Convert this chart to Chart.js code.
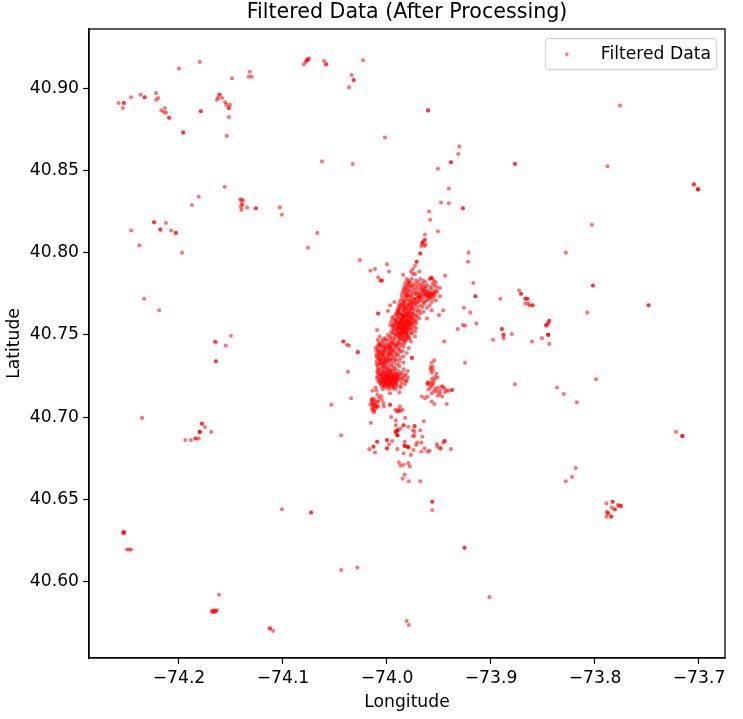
<!DOCTYPE html>
<html><head><meta charset="utf-8">
<script src="https://cdn.jsdelivr.net/npm/chart.js@4"></script>
<style>html,body{margin:0;padding:0;background:#fff}#w{width:743px;height:719px;filter:blur(0.4px)}</style>
</head><body><div id="w"><canvas id="c"></canvas></div>
<script>
const xTicks=[-74.2,-74.1,-74.0,-73.9,-73.8,-73.7];
const yTicks=[40.60,40.65,40.70,40.75,40.80,40.85,40.90];
const chartTitle="Filtered Data (After Processing)";
const seriesName="Filtered Data";
const northWest=[[-74.2,40.912],[-74.18,40.916],[-74.132,40.91],[-74.133,40.907],[-74.13,40.907],[-74.149,40.906],[-74.258,40.891],[-74.253,40.891],[-74.253,40.891],[-74.254,40.888],[-74.246,40.8945],[-74.237,40.896],[-74.233,40.8945],[-74.233,40.8945],[-74.222,40.897],[-74.222,40.893],[-74.22,40.894],[-74.217,40.8865],[-74.2135,40.888],[-74.2145,40.8855],[-74.2125,40.885],[-74.2095,40.882],[-74.2095,40.882],[-74.179,40.886],[-74.179,40.886],[-74.196,40.873],[-74.196,40.873],[-74.1635,40.893],[-74.1625,40.894],[-74.1615,40.896],[-74.1605,40.896],[-74.1585,40.894],[-74.1555,40.8915],[-74.1545,40.89],[-74.151,40.89],[-74.152,40.888],[-74.152,40.888],[-74.152,40.8825],[-74.154,40.871],[-74.156,40.84],[-74.181,40.834],[-74.1875,40.829],[-74.141,40.8325],[-74.14,40.832],[-74.1385,40.832],[-74.1395,40.83],[-74.139,40.829],[-74.1405,40.828],[-74.1345,40.8275],[-74.126,40.827],[-74.126,40.827],[-74.14,40.826],[-74.103,40.8275],[-74.101,40.823]];
const westMid=[[-74.224,40.8185],[-74.224,40.8185],[-74.2125,40.818],[-74.218,40.814],[-74.218,40.814],[-74.246,40.8135],[-74.2075,40.8135],[-74.203,40.812],[-74.203,40.812],[-74.238,40.8045],[-74.197,40.8],[-74.067,40.812],[-74.076,40.803],[-74.2335,40.772],[-74.219,40.765],[-74.15,40.7495],[-74.1655,40.746],[-74.1645,40.7455],[-74.155,40.7435],[-74.1645,40.734],[-74.1645,40.734],[-74.042,40.746],[-74.042,40.746],[-74.0385,40.744],[-74.0365,40.7435],[-74.028,40.7395],[-74.028,40.7395],[-74.0375,40.7275],[-74.0345,40.7115],[-74.0535,40.7075],[-74.044,40.689],[-74.2355,40.6995],[-74.178,40.696],[-74.178,40.696],[-74.175,40.694],[-74.18,40.691],[-74.18,40.691],[-74.18,40.691],[-74.169,40.691],[-74.194,40.686],[-74.1885,40.686],[-74.184,40.687],[-74.184,40.687],[-74.181,40.687]];
const northCentral=[[-74.08,40.9145],[-74.078,40.916],[-74.077,40.917],[-74.077,40.917],[-74.076,40.9175],[-74.075,40.918],[-74.0605,40.9165],[-74.0585,40.9145],[-74.0585,40.9145],[-74.023,40.917],[-74.034,40.908],[-74.032,40.905],[-74.032,40.905],[-74.0365,40.9005],[-73.9605,40.8865],[-73.9605,40.8865],[-74.002,40.87],[-73.9305,40.8645],[-73.9315,40.86],[-73.9385,40.855],[-73.9385,40.855],[-73.951,40.851],[-74.0625,40.8555],[-74.033,40.854],[-73.9405,40.839],[-73.948,40.8305],[-73.9405,40.83],[-73.927,40.827],[-73.927,40.827],[-73.9595,40.825],[-73.9585,40.82],[-73.9635,40.811],[-73.951,40.813],[-73.9635,40.808]];
const eastSide=[[-73.776,40.8895],[-73.877,40.854],[-73.877,40.854],[-73.788,40.8525],[-73.705,40.8415],[-73.705,40.8415],[-73.701,40.8385],[-73.701,40.8385],[-73.701,40.8385],[-73.803,40.817],[-73.828,40.8],[-73.802,40.78],[-73.802,40.78],[-73.917,40.7815],[-73.915,40.7735],[-73.915,40.7735],[-73.891,40.772],[-73.873,40.777],[-73.871,40.775],[-73.871,40.775],[-73.867,40.772],[-73.867,40.772],[-73.865,40.772],[-73.865,40.772],[-73.867,40.769],[-73.864,40.769],[-73.863,40.768],[-73.86,40.768],[-73.86,40.768],[-73.7485,40.768],[-73.7485,40.768],[-73.8075,40.7635],[-73.92,40.7635],[-73.914,40.757],[-73.844,40.7585],[-73.844,40.7585],[-73.845,40.757],[-73.846,40.7565],[-73.847,40.756],[-73.847,40.7555],[-73.8895,40.7535],[-73.8895,40.7535],[-73.88,40.7505],[-73.888,40.75],[-73.888,40.75],[-73.888,40.748],[-73.898,40.747],[-73.8605,40.746],[-73.851,40.748],[-73.845,40.75],[-73.845,40.75],[-73.845,40.75],[-73.844,40.7445],[-73.799,40.723],[-73.877,40.72],[-73.8365,40.718],[-73.83,40.714],[-73.8175,40.709],[-73.722,40.691],[-73.716,40.6885],[-73.716,40.6885],[-73.716,40.6885],[-73.8185,40.669],[-73.822,40.6635],[-73.828,40.661],[-73.789,40.6475],[-73.783,40.6485],[-73.783,40.6485],[-73.778,40.6465],[-73.777,40.646],[-73.775,40.646],[-73.775,40.646],[-73.784,40.645],[-73.781,40.644],[-73.781,40.644],[-73.7885,40.6425],[-73.7875,40.6415],[-73.7875,40.6415],[-73.789,40.6395],[-73.7845,40.6395],[-73.7845,40.6395]];
const southWest=[[-74.101,40.644],[-74.073,40.642],[-74.073,40.642],[-74.253,40.63],[-74.253,40.63],[-74.253,40.63],[-74.2535,40.6293],[-74.248,40.6195],[-74.25,40.6195],[-74.246,40.6195],[-74.044,40.607],[-74.0285,40.6085],[-74.1615,40.592],[-74.1665,40.582],[-74.1645,40.582],[-74.1685,40.582],[-74.1665,40.5825],[-74.1675,40.5815],[-74.1655,40.5815],[-74.1635,40.5825],[-74.1125,40.5715],[-74.1125,40.5715],[-74.1095,40.57]];
const southCentral=[[-73.9565,40.6485],[-73.9565,40.6485],[-73.9565,40.6435],[-73.9255,40.6205],[-73.9255,40.6205],[-73.9015,40.5905],[-73.981,40.576],[-73.979,40.5735]];
const northTail=[[-73.964,40.8075],[-73.963,40.805],[-73.966,40.806],[-73.9655,40.8065],[-73.966,40.8055],[-73.967,40.804],[-73.964,40.804],[-73.968,40.7995],[-73.968,40.7995],[-73.9215,40.8],[-73.922,40.7945],[-73.9715,40.7945],[-73.9715,40.7945],[-73.973,40.792],[-73.975,40.79],[-73.977,40.7885],[-73.975,40.787],[-73.969,40.7885],[-73.973,40.787],[-74.026,40.7955],[-74,40.793],[-74.0115,40.79],[-74.016,40.789],[-73.998,40.7885],[-74.0085,40.785],[-74.0065,40.783],[-74.005,40.783],[-74.005,40.783],[-73.9845,40.7865],[-73.944,40.786],[-73.957,40.7845],[-73.957,40.7845],[-73.958,40.7845],[-73.926,40.7665],[-73.932,40.7535],[-73.927,40.756],[-73.925,40.7555],[-73.945,40.746],[-73.949,40.7785],[-73.949,40.7735],[-73.946,40.765],[-73.95,40.762],[-73.9615,40.7665],[-73.957,40.765],[-73.9615,40.76],[-74.0085,40.763],[-74.0085,40.763],[-73.999,40.7645],[-73.997,40.768],[-73.993,40.77],[-74.0095,40.753],[-73.925,40.733]];
const midtown=[[-73.981,40.784],[-73.979,40.783],[-73.976,40.784],[-73.972,40.783],[-73.968,40.784],[-73.965,40.783],[-73.959,40.784],[-73.955,40.783],
[-73.982,40.782],[-73.98,40.781],[-73.978,40.782],[-73.974,40.781],[-73.97,40.782],[-73.966,40.781],[-73.963,40.782],[-73.956,40.781],[-73.953,40.782],
[-73.983,40.78],[-73.981,40.779],[-73.979,40.78],[-73.976,40.78],[-73.973,40.779],[-73.968,40.78],[-73.965,40.779],[-73.961,40.78],[-73.958,40.779],[-73.954,40.78],[-73.952,40.779],
[-73.984,40.778],[-73.982,40.778],[-73.98,40.777],[-73.978,40.778],[-73.97,40.778],[-73.966,40.777],[-73.963,40.778],[-73.961,40.777],[-73.957,40.778],[-73.953,40.777],
[-73.985,40.776],[-73.983,40.777],[-73.981,40.775],[-73.979,40.776],[-73.976,40.776],[-73.972,40.775],[-73.968,40.776],[-73.965,40.777],[-73.962,40.776],[-73.959,40.775],[-73.955,40.776],[-73.952,40.776],
[-73.986,40.774],[-73.983,40.775],[-73.98,40.774],[-73.977,40.774],[-73.974,40.775],[-73.971,40.774],[-73.968,40.774],[-73.965,40.775],[-73.962,40.774],[-73.96,40.774],[-73.957,40.775],[-73.954,40.774],
[-73.985,40.772],[-73.982,40.773],[-73.979,40.772],[-73.976,40.773],[-73.974,40.772],[-73.972,40.772],[-73.969,40.773],[-73.966,40.772],[-73.963,40.773],[-73.96,40.772],[-73.958,40.773],[-73.956,40.772],
[-73.987,40.771],[-73.984,40.77],[-73.981,40.771],[-73.978,40.77],[-73.975,40.771],[-73.971,40.77],[-73.968,40.771],[-73.965,40.77],[-73.961,40.771],[-73.957,40.77],[-73.953,40.771],
[-73.988,40.769],[-73.986,40.768],[-73.983,40.769],[-73.98,40.768],[-73.977,40.769],[-73.974,40.768],[-73.972,40.769],[-73.968,40.768],[-73.964,40.769],[-73.959,40.768],
[-73.989,40.767],[-73.987,40.766],[-73.984,40.767],[-73.981,40.766],[-73.978,40.767],[-73.975,40.766],[-73.971,40.767],[-73.966,40.767],
[-73.99,40.765],[-73.988,40.766],[-73.985,40.765],[-73.982,40.764],[-73.979,40.765],[-73.976,40.766],[-73.973,40.765],[-73.969,40.765],[-73.965,40.764],
[-73.991,40.763],[-73.989,40.764],[-73.987,40.763],[-73.984,40.762],[-73.981,40.763],[-73.979,40.764],[-73.976,40.763],[-73.972,40.762],[-73.968,40.763],
[-73.994,40.761],[-73.991,40.762],[-73.989,40.761],[-73.987,40.76],[-73.985,40.762],[-73.983,40.761],[-73.981,40.762],[-73.978,40.761],[-73.975,40.76],[-73.971,40.761],
[-73.995,40.76],[-73.992,40.759],[-73.99,40.76],[-73.988,40.758],[-73.986,40.759],[-73.984,40.76],[-73.982,40.758],[-73.98,40.759],[-73.978,40.758],[-73.976,40.76],[-73.973,40.759],[-73.969,40.76],
[-73.996,40.758],[-73.993,40.757],[-73.991,40.758],[-73.989,40.757],[-73.987,40.758],[-73.985,40.757],[-73.983,40.758],[-73.981,40.757],[-73.979,40.758],[-73.977,40.757],[-73.975,40.758],[-73.972,40.757],
[-73.997,40.756],[-73.994,40.755],[-73.992,40.756],[-73.99,40.757],[-73.988,40.755],[-73.986,40.756],[-73.984,40.755],[-73.982,40.756],[-73.98,40.755],[-73.978,40.756],[-73.974,40.755],
[-73.994,40.754],[-73.991,40.753],[-73.989,40.754],[-73.987,40.753],[-73.985,40.755],[-73.983,40.754],[-73.981,40.753],[-73.979,40.754],[-73.976,40.753],[-73.972,40.754],
[-73.996,40.752],[-73.993,40.751],[-73.99,40.752],[-73.988,40.751],[-73.986,40.753],[-73.984,40.752],[-73.982,40.751],[-73.98,40.752],[-73.977,40.751],[-73.973,40.752],
[-73.999,40.75],[-73.995,40.751],[-73.992,40.75],[-73.989,40.751],[-73.987,40.75],[-73.985,40.751],[-73.983,40.749],[-73.98,40.75],[-73.976,40.751]];
const midtownFill=[[-73.9785,40.7817],[-73.9765,40.7793],[-73.9742,40.7776],[-73.9717,40.7763],[-73.9693,40.7748],[-73.9671,40.7784],[-73.9647,40.7768],[-73.9628,40.7752],[-73.9604,40.7739],[-73.9581,40.7761],[-73.9816,40.7736],[-73.9793,40.7741],[-73.9775,40.7712],[-73.9828,40.7708],[-73.9851,40.7694],[-73.9872,40.7679],[-73.9794,40.7687],[-73.9763,40.7678],[-73.9735,40.7694],[-73.9695,40.7703],[-73.9892,40.7647],[-73.9867,40.7622],[-73.9838,40.7647],[-73.9812,40.7618],[-73.9786,40.7629],[-73.9762,40.7612],[-73.9841,40.7608],[-73.9823,40.7594],[-73.9863,40.7587],[-73.9798,40.7586],[-73.9775,40.7594],[-73.9752,40.7571],[-73.9805,40.7564],[-73.9827,40.7566],[-73.9845,40.7549],[-73.9871,40.7572],[-73.9893,40.7553],[-73.9858,40.7532],[-73.9832,40.7528],[-73.9808,40.7545],[-73.9785,40.7533],[-73.9905,40.7575],[-73.9921,40.7592],[-73.9874,40.7517],[-73.9912,40.7538],[-73.9848,40.7505],[-73.9887,40.7485],[-73.9856,40.7473],[-73.9818,40.7509],[-73.9794,40.7482],[-73.9823,40.7468],[-73.9761,40.7562],[-73.9741,40.7623],[-73.9724,40.7584],[-73.9704,40.7642],[-73.9903,40.7627],[-73.9816,40.7657],[-73.9773,40.7655],[-73.9836,40.7677],[-73.9689,40.7727],[-73.9631,40.7706],[-73.9589,40.7731],[-73.9558,40.7738],[-73.9632,40.7796],[-73.9708,40.7803]];
const midtownCore=[[-73.9882,40.7633],[-73.9851,40.7612],[-73.9829,40.7631],[-73.9803,40.7604],[-73.9778,40.7612],[-73.9856,40.7598],[-73.9834,40.7578],[-73.9811,40.7592],[-73.9786,40.7573],[-73.9878,40.7562],[-73.9853,40.7568],[-73.9824,40.7547],[-73.9796,40.7558],[-73.9768,40.7548],[-73.9902,40.7544],[-73.9876,40.7538],[-73.9842,40.7535],[-73.9815,40.7521],[-73.9862,40.7518],[-73.9837,40.7511],[-73.9806,40.7493],[-73.9875,40.7498],[-73.9903,40.7503],[-73.9934,40.7528],[-73.9944,40.7557],[-73.9798,40.7628],[-73.9753,40.7633],[-73.9829,40.7664],[-73.9798,40.7673],[-73.9758,40.7697],[-73.9728,40.7713],[-73.9696,40.7725],[-73.9665,40.7735],[-73.9637,40.7745],[-73.9608,40.7755],[-73.9576,40.7744],[-73.9546,40.7752]];
const downtown=[[-74.007,40.749],[-74.002,40.748],[-73.997,40.749],[-73.994,40.748],[-73.991,40.749],[-73.988,40.748],[-73.986,40.749],[-73.984,40.748],[-73.981,40.749],[-73.978,40.748],[-73.973,40.749],
[-74.009,40.747],[-74.005,40.746],[-74.001,40.747],[-73.996,40.746],[-73.993,40.747],[-73.99,40.746],[-73.987,40.747],[-73.984,40.746],[-73.981,40.747],[-73.977,40.746],
[-74.008,40.745],[-74.006,40.744],[-74.003,40.745],[-73.999,40.744],[-73.995,40.745],[-73.992,40.744],[-73.989,40.745],[-73.986,40.744],[-73.983,40.745],
[-74.009,40.743],[-74.007,40.744],[-74.004,40.743],[-74.001,40.742],[-73.997,40.743],[-73.994,40.744],[-73.991,40.743],[-73.988,40.742],[-73.984,40.743],[-73.979,40.742],
[-74.011,40.742],[-74.009,40.741],[-74.006,40.74],[-74.003,40.741],[-73.999,40.742],[-73.996,40.741],[-73.993,40.74],[-73.989,40.741],[-73.985,40.74],
[-74.01,40.74],[-74.008,40.739],[-74.005,40.738],[-74.002,40.74],[-73.998,40.739],[-73.995,40.738],[-73.991,40.739],[-73.987,40.74],[-73.981,40.739],
[-74.01,40.738],[-74.007,40.737],[-74.004,40.738],[-74,40.737],[-73.997,40.738],[-73.993,40.737],[-73.989,40.738],[-73.984,40.737],
[-74.009,40.736],[-74.006,40.735],[-74.003,40.736],[-73.999,40.735],[-73.995,40.736],[-73.991,40.735],[-73.987,40.736],[-73.976,40.736],[-73.976,40.736],
[-74.01,40.734],[-74.007,40.735],[-74.004,40.733],[-74.001,40.734],[-73.997,40.735],[-73.993,40.733],[-73.988,40.734],
[-74.01,40.732],[-74.007,40.733],[-74.003,40.732],[-73.999,40.733],[-73.995,40.731],[-73.99,40.732],[-73.984,40.733],
[-74.009,40.73],[-74.005,40.731],[-74.001,40.73],[-73.997,40.729],[-73.993,40.73],[-73.988,40.731],
[-74.008,40.729],[-74.003,40.728],[-74,40.729],[-73.996,40.728],[-73.992,40.729],[-73.989,40.728],[-73.984,40.729],[-73.98,40.728],
[-74.009,40.727],[-74.007,40.726],[-74.004,40.727],[-74.001,40.726],[-73.998,40.727],[-73.995,40.726],[-73.992,40.727],[-73.989,40.726],[-73.986,40.727],[-73.982,40.726],
[-74.009,40.725],[-74.006,40.726],[-74.004,40.725],[-74.002,40.724],[-74,40.725],[-73.998,40.726],[-73.996,40.724],[-73.994,40.725],[-73.992,40.724],[-73.99,40.725],[-73.987,40.726],[-73.983,40.725],[-73.98,40.724],
[-74.008,40.723],[-74.006,40.724],[-74.004,40.723],[-74.002,40.722],[-74,40.723],[-73.998,40.724],[-73.996,40.723],[-73.994,40.722],[-73.992,40.723],[-73.989,40.724],[-73.985,40.723],[-73.981,40.722],
[-74.007,40.722],[-74.005,40.721],[-74.003,40.722],[-74.001,40.721],[-73.999,40.722],[-73.997,40.721],[-73.995,40.722],[-73.993,40.721],[-73.99,40.722],[-73.986,40.721],[-73.982,40.722],
[-74.006,40.72],[-74.003,40.719],[-74.001,40.72],[-73.999,40.719],[-73.996,40.72],[-73.994,40.719],[-73.991,40.72],[-73.987,40.719],[-73.983,40.72],
[-74.011,40.718],[-74.004,40.717],[-74.001,40.718],[-73.998,40.717],[-73.995,40.718],[-73.992,40.717],[-73.987,40.718],
[-74.014,40.716],[-74.01,40.716],[-73.997,40.7145],[-73.988,40.715]];
const downtownFill=[[-74.0072,40.7437],[-74.0056,40.7421],[-74.0034,40.7393],[-74.0012,40.7413],[-73.9985,40.7405],[-73.9963,40.7426],[-73.9948,40.7398],[-73.9923,40.7416],[-73.9905,40.7378],[-74.0075,40.7352],[-74.0052,40.7366],[-74.0026,40.7344],[-74.0011,40.7358],[-73.9983,40.7367],[-73.9958,40.7345],[-74.0086,40.7317],[-74.0058,40.7327],[-74.0032,40.7304],[-74.0017,40.7316],[-73.9986,40.7308],[-73.9961,40.7322],[-73.9925,40.7347],[-74.0065,40.7285],[-74.0042,40.7296],[-74.0018,40.7274],[-73.9992,40.7287],[-73.9972,40.7272],[-73.9945,40.7283],[-73.9918,40.7264],[-74.0053,40.7243],[-74.0031,40.7256],[-74.0008,40.7238],[-73.9987,40.7252],[-73.9968,40.7235],[-73.9941,40.7246],[-73.9919,40.7232],[-73.9898,40.7241],[-74.0044,40.7213],[-74.0021,40.7228],[-74.0002,40.7206],[-73.9978,40.7218],[-73.9956,40.7207],[-73.9934,40.7225],[-73.9912,40.7208],[-74.0047,40.7186],[-74.0023,40.7193],[-73.9985,40.7184],[-73.9962,40.7193],[-73.9938,40.7178],[-73.9908,40.7187],[-74.0083,40.7215],[-74.0061,40.7205],[-74.0098,40.7238],[-74.0037,40.7472],[-73.9994,40.7465],[-73.9968,40.7478],[-73.9935,40.7452],[-73.9972,40.7447],[-73.9908,40.7437],[-73.9882,40.7447],[-74.0078,40.7403],[-74.0102,40.7368],[-74.0093,40.7278]];
const downtownCore=[[-74.0064,40.7262],[-74.0038,40.7268],[-74.0012,40.7252],[-73.9993,40.7268],[-73.9974,40.7252],[-73.9952,40.7263],[-73.9931,40.7248],[-73.9909,40.7258],[-74.0049,40.7228],[-74.0013,40.7222],[-73.9994,40.7234],[-73.9972,40.7226],[-73.9948,40.7232],[-73.9927,40.7214],[-73.9903,40.7226],[-73.9876,40.7232],[-73.9853,40.7243],[-74.0025,40.7207],[-73.9989,40.7198],[-73.9968,40.7209],[-73.9942,40.7196],[-74.0063,40.7326],[-74.0041,40.7342],[-74.0019,40.7333],[-73.9997,40.7346],[-74.0073,40.7383],[-74.0048,40.7394],[-74.0022,40.7377],[-73.9994,40.7386],[-73.9969,40.7392],[-74.0027,40.7431],[-74.0005,40.7438],[-73.9982,40.7425],[-73.9954,40.7413]];
const financial=[[-74.0145,40.711],[-74.0125,40.711],[-74.0145,40.7105],[-74.005,40.7105],[-74.0085,40.7095],[-74.0035,40.7085],[-74.016,40.7075],[-74.0135,40.7075],[-74.0105,40.707],[-74.0085,40.7065],[-74.0145,40.7045],[-74.0125,40.704],[-73.997,40.7075],[-73.997,40.7075],[-74.003,40.7065],[-73.992,40.7045],[-73.989,40.7045],[-73.985,40.7045],[-73.9875,40.7065],[-74.0125,40.703],[-74.0118,40.7078],[-74.0128,40.7062],[-74.0112,40.7052],[-74.0138,40.7058],[-74.0098,40.7062],[-74.0132,40.7085],[-74.0098,40.7095],[-74.0152,40.7092],[-74.0122,40.7098],[-74.0076,40.7118],[-74.0055,40.7128],[-74.0092,40.7136],[-73.9905,40.7035],[-73.9888,40.7036],[-73.9872,40.7038]];
const brooklynNorth=[[-73.9545,40.7345],[-73.957,40.733],[-73.958,40.7305],[-73.956,40.7305],[-73.958,40.729],[-73.956,40.7285],[-73.957,40.727],[-73.9525,40.7265],[-73.9535,40.7245],[-73.9515,40.724],[-73.9565,40.7235],[-73.9545,40.7225],[-73.957,40.7215],[-73.961,40.7205],[-73.961,40.7205],[-73.959,40.7195],[-73.9565,40.7195],[-73.958,40.718],[-73.951,40.718],[-73.9465,40.7185],[-73.9425,40.716],[-73.9375,40.7165],[-73.9375,40.7165],[-73.9405,40.716],[-73.949,40.716],[-73.952,40.7155],[-73.951,40.713],[-73.947,40.7125],[-73.957,40.7145],[-73.961,40.7125],[-73.9635,40.7115],[-73.9665,40.7125],[-73.957,40.7095],[-73.9545,40.708],[-73.9425,40.708],[-73.9445,40.7175],[-73.9475,40.7185],[-73.9555,40.7205],[-73.9598,40.7212],[-73.9535,40.7172],[-73.9548,40.7158],[-73.9442,40.7152],[-73.9492,40.7142],[-73.9602,40.7168]];
const brooklynSouth=[[-74.0155,40.6965],[-73.996,40.7],[-73.9825,40.6995],[-73.9915,40.698],[-73.9645,40.6975],[-73.9915,40.695],[-73.984,40.695],[-73.984,40.695],[-73.9735,40.6945],[-73.9735,40.6945],[-73.9795,40.694],[-73.987,40.693],[-73.99,40.692],[-73.99,40.692],[-73.99,40.692],[-73.9915,40.691],[-73.9915,40.691],[-73.9915,40.691],[-73.99,40.689],[-73.99,40.689],[-73.99,40.689],[-73.975,40.692],[-73.9735,40.691],[-73.968,40.692],[-73.975,40.6885],[-73.9735,40.6885],[-73.966,40.688],[-74,40.686],[-74,40.686],[-73.995,40.6855],[-74.0095,40.685],[-74.0095,40.685],[-73.983,40.685],[-73.971,40.6845],[-73.967,40.6845],[-73.9445,40.6855],[-73.9445,40.6855],[-73.946,40.6845],[-73.952,40.6835],[-73.972,40.683],[-73.998,40.6835],[-74.013,40.682],[-74.013,40.682],[-73.983,40.6825],[-73.983,40.6825],[-73.983,40.6825],[-73.98,40.682],[-73.98,40.682],[-73.98,40.682],[-73.979,40.6815],[-74.017,40.6805],[-74,40.681],[-74,40.681],[-73.99,40.6805],[-73.9745,40.68],[-73.964,40.681],[-73.9515,40.682],[-73.9485,40.681],[-73.9485,40.681],[-73.9385,40.6805],[-73.959,40.6795],[-73.961,40.679],[-73.967,40.679],[-74.0115,40.6785],[-73.984,40.678],[-73.977,40.677],[-73.9885,40.6725],[-73.9795,40.672],[-73.987,40.6705],[-73.984,40.671],[-73.978,40.67],[-73.979,40.661],[-73.968,40.661],[-73.985,40.6625],[-73.983,40.665]];
const groups=[northWest,westMid,northCentral,eastSide,southWest,southCentral,northTail,midtown,midtownFill,midtownCore,downtown,downtownFill,downtownCore,financial,brooklynNorth,brooklynSouth];
const points=groups.flat().map(p=>({x:p[0],y:p[1]}));
const pointColor="rgba(255,0,0,0.55)";
const fontFam="'DejaVu Sans'";
const FS=17.2;
const marker=document.createElement('canvas');marker.width=44;marker.height=6;
{const m=marker.getContext('2d');m.fillStyle=pointColor;m.beginPath();m.arc(5,3,1.9,0,Math.PI*2);m.fill();}
const frame={id:'frame',
 afterLayout(ch){const l=ch.legend;l.right=721;l.left=l.right-l.width;l.bottom=l.top+73;},
 beforeDraw(ch){const c=ch.ctx;c.save();c.fillStyle='#fff';c.fillRect(0,0,ch.width,ch.height);
  c.beginPath();c.roundRect(545.5,38.5,171,31,4);c.strokeStyle='#d6d6d6';c.lineWidth=1.3;c.stroke();c.restore();},
 afterDraw(ch){const a=ch.chartArea,c=ch.ctx;c.save();c.strokeStyle='#000';c.lineWidth=1.3;c.strokeRect(a.left,a.top,a.right-a.left,a.bottom-a.top);c.restore();}
};
const scaleCommon=(title,ticks,dec,pad)=>({
 type:'linear',
 title:{display:true,text:title,color:'#000',font:{family:fontFam,size:FS},padding:pad},
 border:{display:true,color:'#000',width:1.3},
 grid:{drawOnChartArea:false,drawTicks:true,tickLength:6,tickColor:'#000',tickWidth:1.2},
 afterBuildTicks(s){s.ticks=ticks.map(v=>({value:v}));},
 ticks:{autoSkip:false,maxRotation:0,minRotation:0,color:'#000',padding:4,font:{family:fontFam,size:FS},
  callback:v=>Number(v).toFixed(dec).replace('-','\u2212')}
});
const sx=scaleCommon('Longitude',xTicks,1,{top:0,bottom:6});sx.min=-74.2865;sx.max=-73.675;sx.afterFit=s=>{s.height=61;};
const sy=scaleCommon('Latitude',yTicks,2,{top:4,bottom:0});sy.min=40.5535;sy.max=40.936;sy.afterFit=s=>{s.width=89;};
new Chart(document.getElementById('c'),{
 type:'scatter',
 data:{datasets:[{label:seriesName,data:points,backgroundColor:pointColor,borderWidth:0,pointRadius:2.05,pointHoverRadius:2.05}]},
 options:{responsive:true,maintainAspectRatio:false,animation:false,
  layout:{padding:{left:0,right:18,top:0,bottom:0}},
  scales:{x:sx,y:sy},
  plugins:{
   title:{display:true,text:chartTitle,color:'#000',fullSize:false,font:{family:fontFam,size:20.6,weight:'normal',lineHeight:1},padding:{top:2,bottom:6.4}},
   legend:{position:'chartArea',align:'end',labels:{usePointStyle:true,pointStyle:marker,boxWidth:FS,padding:10,color:'#000',font:{family:fontFam,size:FS}}},
   tooltip:{enabled:false}
  }},
 plugins:[frame]
});
</script></body></html>
